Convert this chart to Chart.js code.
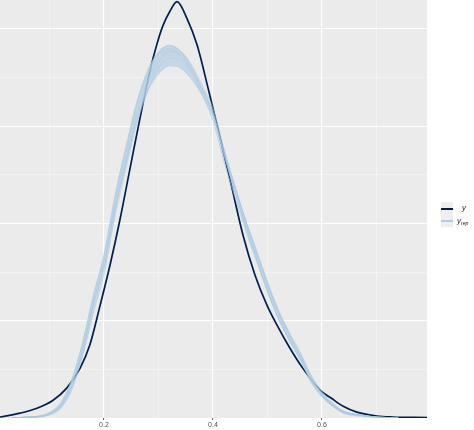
<!DOCTYPE html>
<html>
<head>
<meta charset="utf-8">
<script src="https://cdn.jsdelivr.net/npm/chart.js@4"></script>
<style>
  html, body { margin:0; padding:0; background:#fff; }
  #wrap { position:relative; width:474px; height:430px; }
  #legend { position:absolute; left:441px; top:202px; font-family:'Liberation Sans', Arial, sans-serif; color:#1a1a1a; }
  .row { position:relative; height:12.5px; }
  .key { position:absolute; left:0; top:0; width:12px; height:12.5px; background:#efefef; }
  .key span { position:absolute; left:0; width:12px; top:5.5px; height:2px; }
  .lab { position:absolute; top:0px; font-size:8px; line-height:12.5px; font-style:italic; white-space:nowrap; }
  .lab sub { font-size:5px; font-style:italic; vertical-align:-1.5px; }
</style>
</head>
<body>
<div id="wrap">
  <canvas id="chart" width="474" height="430"></canvas>
  <div id="legend">
    <div class="row"><div class="key"><span style="background:#011f4b;"></span></div><div class="lab" style="left:21px;">y</div></div>
    <div class="row"><div class="key"><span style="background:#b3cde0;"></span></div><div class="lab" style="left:16px;">y<sub>rep</sub></div></div>
  </div>
</div>
<script>
// ---- Data ----
const yX   = [0.009, 0.046, 0.077, 0.106, 0.132, 0.156, 0.174, 0.193, 0.211, 0.229, 0.248, 0.266, 0.284, 0.297, 0.308, 0.321, 0.334, 0.352, 0.371, 0.391, 0.413, 0.435, 0.455, 0.477, 0.499, 0.517, 0.541, 0.565, 0.596, 0.618, 0.639, 0.664, 0.701, 0.730, 0.793];
const yObs = [0.01,  0.05,  0.10,  0.18,  0.31,  0.51,  0.75,  1.16,  1.57,  2.03,  2.57,  3.08,  3.56,  3.84,  4.03,  4.18,  4.28,  4.11,  3.83,  3.39,  2.88,  2.36,  1.88,  1.47,  1.16,  0.96,  0.72,  0.51,  0.29,  0.20,  0.12,  0.06,  0.02,  0.01,  0.005];

const repX  = [0.03, 0.06, 0.09, 0.12, 0.14, 0.16, 0.18, 0.20, 0.22, 0.24, 0.26, 0.28, 0.30, 0.32, 0.34, 0.36, 0.38, 0.40, 0.42, 0.44, 0.46, 0.48, 0.50, 0.52, 0.54, 0.56, 0.58, 0.60, 0.62, 0.64, 0.67, 0.70, 0.74];
const repA  = [0.00, 0.01, 0.03, 0.15, 0.38, 0.76, 1.25, 1.68, 2.28, 2.78, 3.24, 3.57, 3.76, 3.83, 3.77, 3.61, 3.39, 3.13, 2.72, 2.33, 1.96, 1.63, 1.30, 1.02, 0.80, 0.60, 0.37, 0.22, 0.12, 0.05, 0.02, 0.01, 0.00];
const repB  = [0.00, 0.01, 0.02, 0.10, 0.28, 0.62, 1.07, 1.48, 2.07, 2.56, 3.02, 3.36, 3.60, 3.70, 3.68, 3.56, 3.38, 3.14, 2.74, 2.38, 2.03, 1.72, 1.40, 1.11, 0.88, 0.67, 0.44, 0.27, 0.15, 0.07, 0.03, 0.01, 0.00];
const repC  = [0.00, 0.01, 0.03, 0.13, 0.35, 0.72, 1.20, 1.62, 2.22, 2.72, 3.20, 3.53, 3.73, 3.80, 3.73, 3.56, 3.33, 3.06, 2.64, 2.28, 1.93, 1.61, 1.30, 1.03, 0.80, 0.61, 0.39, 0.23, 0.12, 0.06, 0.03, 0.01, 0.00];
const repD  = [0.00, 0.00, 0.02, 0.11, 0.30, 0.65, 1.11, 1.53, 2.12, 2.61, 3.08, 3.42, 3.65, 3.76, 3.76, 3.63, 3.42, 3.18, 2.77, 2.39, 2.03, 1.70, 1.38, 1.09, 0.86, 0.66, 0.42, 0.25, 0.14, 0.07, 0.03, 0.01, 0.00];
const repE  = [0.00, 0.01, 0.02, 0.12, 0.33, 0.69, 1.16, 1.57, 2.15, 2.62, 3.06, 3.36, 3.54, 3.62, 3.60, 3.49, 3.32, 3.10, 2.72, 2.37, 2.01, 1.69, 1.37, 1.09, 0.85, 0.64, 0.41, 0.25, 0.13, 0.06, 0.03, 0.01, 0.00];
const repM  = [0.00, 0.01, 0.02, 0.12, 0.32, 0.68, 1.15, 1.57, 2.17, 2.66, 3.13, 3.47, 3.69, 3.78, 3.73, 3.58, 3.37, 3.12, 2.70, 2.33, 1.98, 1.66, 1.34, 1.06, 0.83, 0.63, 0.40, 0.24, 0.13, 0.06, 0.03, 0.01, 0.00];
const yrepSeries = [repA, repB, repC, repD, repE, repM];

const xTicks      = [0.1, 0.2, 0.3, 0.4, 0.5, 0.6, 0.7];
const xTickLabels = ['', '0.2', '', '0.4', '', '0.6', ''];
const yTicks      = [0.5, 1, 1.5, 2, 2.5, 3, 3.5, 4];
const yMajor      = [1, 2, 3, 4];

const X_MIN = 0.0092, X_MAX = 0.7927;
const Y_MIN = 0, Y_MAX = 4.296;

// ---- Helpers ----
const toPts = (xs, ys) => xs.map((x, i) => ({ x, y: ys[i] }));

const panelBg = {
  id: 'panelBg',
  beforeDraw(chart) {
    const { ctx, chartArea: a } = chart;
    ctx.save();
    ctx.fillStyle = '#ffffff';
    ctx.fillRect(0, 0, chart.width, chart.height);
    ctx.fillStyle = '#ebebeb';
    ctx.fillRect(a.left, a.top, a.right - a.left, a.bottom - a.top);
    ctx.restore();
  }
};

// first yrep line also fills the band up to the lowest one (repE, index 4)
const repDatasets = yrepSeries.map((s, i) => ({
  data: toPts(repX, s),
  borderColor: 'rgba(166,197,222,0.6)',
  backgroundColor: 'rgba(184,208,228,0.75)',
  borderWidth: 1.1,
  pointRadius: 0,
  cubicInterpolationMode: 'monotone',
  fill: i === 0 ? 4 : false,
}));

new Chart(document.getElementById('chart').getContext('2d'), {
  type: 'line',
  data: {
    datasets: [
      ...repDatasets,
      { data: toPts(yX, yObs), borderColor: '#011f4b', borderWidth: 1.7, pointRadius: 0, cubicInterpolationMode: 'monotone', fill: false },
    ],
  },
  options: {
    responsive: false,
    animation: false,
    layout: { padding: { left: 0, right: 47, top: 0, bottom: 0 } },
    plugins: { legend: { display: false }, tooltip: { enabled: false } },
    scales: {
      x: {
        type: 'linear', min: X_MIN, max: X_MAX,
        afterBuildTicks: s => { s.ticks = xTicks.map(v => ({ value: v })); },
        afterFit: s => { s.height = 12; },
        border: { display: false },
        grid: {
          color: c => c.index % 2 === 1 ? '#ffffff' : 'rgba(255,255,255,0.65)',
          lineWidth: c => c.index % 2 === 1 ? 1.1 : 0.55,
          drawTicks: true, tickLength: 2,
          tickColor: c => c.index % 2 === 1 ? '#333333' : 'rgba(0,0,0,0)',
          tickWidth: 0.8,
        },
        ticks: {
          autoSkip: false, maxRotation: 0, padding: 1,
          color: '#4d4d4d', font: { family: 'Liberation Sans', size: 7 },
          callback: (v, i) => xTickLabels[i],
        },
      },
      y: {
        type: 'linear', min: Y_MIN, max: Y_MAX,
        afterBuildTicks: s => { s.ticks = yTicks.map(v => ({ value: v })); },
        afterFit: s => { s.width = 0; },
        border: { display: false },
        grid: {
          color: c => yMajor.includes(c.tick.value) ? '#ffffff' : 'rgba(255,255,255,0.65)',
          lineWidth: c => yMajor.includes(c.tick.value) ? 1.1 : 0.55,
          drawTicks: false,
        },
        ticks: { display: false },
      },
    },
  },
  plugins: [panelBg],
});
</script>
</body>
</html>
